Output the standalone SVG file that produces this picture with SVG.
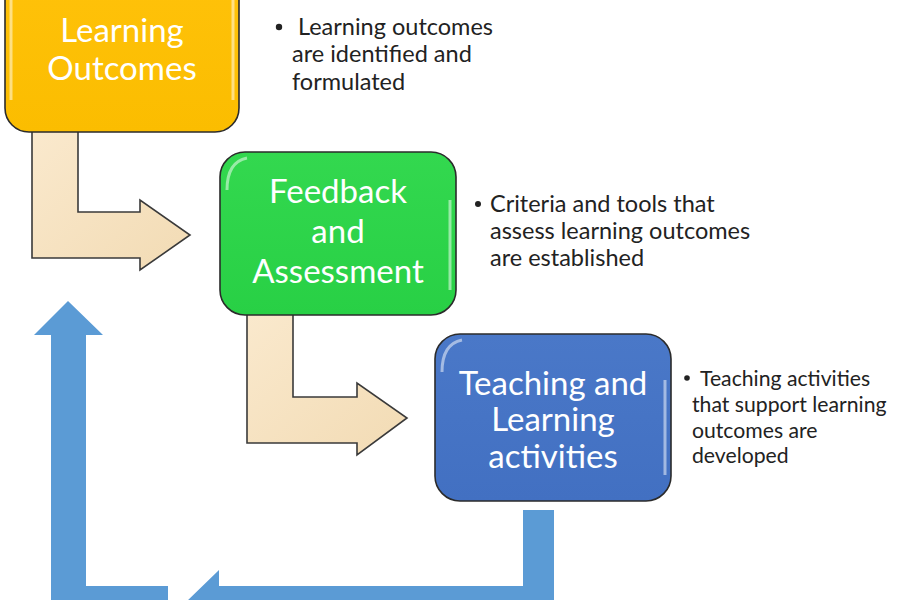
<svg xmlns="http://www.w3.org/2000/svg" width="900" height="600" viewBox="0 0 900 600">
<defs>
<style>
.box{stroke:#2b2b2b;stroke-width:1.6}
.hl{fill:none;stroke:#ffffff;stroke-opacity:0.5;stroke-width:3}
.bt{font-family:Lato,"Liberation Sans",sans-serif;font-size:33px;fill:#ffffff;text-anchor:middle}
.tx{font-family:Lato,"Liberation Sans",sans-serif;fill:#222222}
.beige{fill:url(#gBeige);stroke:#3a3a3a;stroke-width:1.6;stroke-linejoin:miter}
.blue{fill:#5B9BD5}
</style>
<linearGradient id="gBeige" x1="0" y1="0" x2="1" y2="1">
<stop offset="0" stop-color="#FAE9CD"/>
<stop offset="1" stop-color="#F2DBB4"/>
</linearGradient>
<linearGradient id="gOr" x1="0" y1="0" x2="0" y2="1">
<stop offset="0" stop-color="#FFC20A"/>
<stop offset="1" stop-color="#FBBD00"/>
</linearGradient>
<linearGradient id="gGr" x1="0" y1="0" x2="0" y2="1">
<stop offset="0" stop-color="#33D84F"/>
<stop offset="1" stop-color="#28D045"/>
</linearGradient>
<linearGradient id="gBl" x1="0" y1="0" x2="0" y2="1">
<stop offset="0" stop-color="#4A78C8"/>
<stop offset="1" stop-color="#4270C2"/>
</linearGradient>
</defs>
<rect width="900" height="600" fill="#ffffff"/>

<g id="connectors">
<path class="beige" d="M32,131 H78 V212 H140 V200 L190,235 L140,270 V258 H32 Z"/>
<path class="beige" d="M247,314 H293 V397 H357 V383 L407,418 L357,455 V443 H247 Z"/>
<path class="blue" d="M523,510 H554 V622 H219 V638 L185,603 L219,570 V586 H523 Z"/>
<path class="blue" d="M68,301 L103,335 H86 V586 H168 V622 H51 V335 H34 Z"/>
</g>

<g id="node-learning-outcomes">
<rect class="box" x="5" y="-30" width="234" height="162" rx="24" fill="url(#gOr)"/>
<path class="hl" d="M11,-10 V100 M233,-10 V100" stroke="#FFF2A0"/>
<text class="bt" x="122" y="42">Learning</text>
<text class="bt" x="122" y="80">Outcomes</text>
</g>

<g id="node-feedback">
<rect class="box" x="220" y="152" width="236" height="163" rx="25" fill="url(#gGr)"/>
<path class="hl" d="M227,190 Q227,162 247,158 M450,200 V290"/>
<text class="bt" x="338" y="203">Feedback</text>
<text class="bt" x="338" y="243">and</text>
<text class="bt" x="338" y="283">Assessment</text>
</g>

<g id="node-teaching">
<rect class="box" x="435" y="334" width="236" height="167" rx="25" fill="url(#gBl)"/>
<path class="hl" d="M442,372 Q442,344 462,340 M665,380 V475"/>
<text class="bt" x="553" y="395">Teaching and</text>
<text class="bt" x="553" y="431">Learning</text>
<text class="bt" x="553" y="468">activities</text>
</g>

<g id="note-learning-outcomes">
<circle cx="279" cy="27" r="3.2" fill="#222222"/>
<text class="tx" font-size="23.5" x="298" y="35">Learning outcomes</text>
<text class="tx" font-size="23.5" x="292" y="62">are identified and</text>
<text class="tx" font-size="23.5" x="292" y="90">formulated</text>
</g>

<g id="note-feedback">
<circle cx="478" cy="204" r="3" fill="#222222"/>
<text class="tx" font-size="23.5" x="490" y="212">Criteria and tools that</text>
<text class="tx" font-size="23.5" x="490" y="239">assess learning outcomes</text>
<text class="tx" font-size="23.5" x="490" y="266">are established</text>
</g>

<g id="note-teaching">
<circle cx="687" cy="378" r="2.8" fill="#222222"/>
<text class="tx" font-size="21.2" x="700" y="386">Teaching activities</text>
<text class="tx" font-size="21.2" x="692" y="412">that support learning</text>
<text class="tx" font-size="21.2" x="692" y="438">outcomes are</text>
<text class="tx" font-size="21.2" x="692" y="463">developed</text>
</g>
</svg>
